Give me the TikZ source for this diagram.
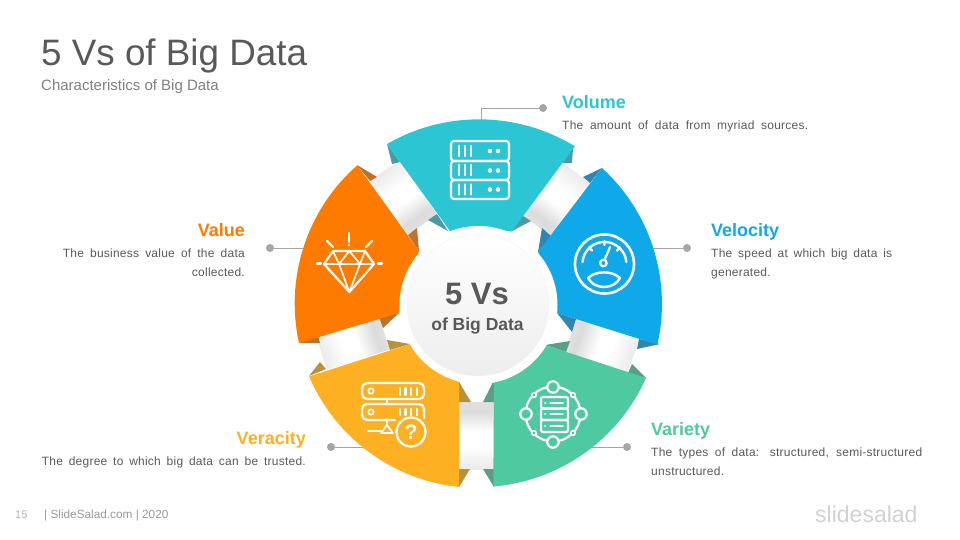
\documentclass[tikz,border=0pt]{standalone}
\usepackage{fontspec}
\setmainfont{Liberation Sans}
\newfontfamily\bodyfont[LetterSpace=2]{Liberation Sans}
\usetikzlibrary{positioning}
\definecolor{volumeteal}{HTML}{2CC5D4}
\definecolor{volumedark}{HTML}{4A9AA8}
\definecolor{velocityblue}{HTML}{0FA8E8}
\definecolor{velocitydark}{HTML}{2F86AE}
\definecolor{varietygreen}{HTML}{4FC99F}
\definecolor{varietydark}{HTML}{5A9E88}
\definecolor{veracityyellow}{HTML}{FDB022}
\definecolor{veracitydark}{HTML}{B8923A}
\definecolor{valueorange}{HTML}{FF7B00}
\definecolor{valuedark}{HTML}{B8732C}
\definecolor{titlegray}{HTML}{595959}
\definecolor{bodygray}{HTML}{595959}
\definecolor{linegray}{HTML}{A6A6A6}
\pgfdeclareverticalshading{rodfade}{100bp}{color(0bp)=(white!92!black); color(25bp)=(white!92!black); color(42bp)=(white); color(53bp)=(white); color(68bp)=(white!86!black); color(75bp)=(white!88!black); color(100bp)=(white!88!black)}
\tikzset{
  rod/.style={shading=rodfade},
  icon/.style={draw=white, line width=2.2pt, line cap=round, line join=round},
  thinicon/.style={icon, line width=1.7pt},
  dotpin/.style={circle, fill=linegray, inner sep=0pt, minimum size=8pt},
  pinline/.style={draw=linegray, line width=0.9pt},
  heading/.style={font=\fontsize{18}{20}\selectfont\bfseries},
  bodytext/.style={font=\bodyfont\fontsize{12}{19}\selectfont, text=bodygray, inner sep=0pt}
}

\begin{document}
\begin{tikzpicture}[x=1pt, y=-1pt]

    \useasboundingbox (0,0) rectangle (960,540);

    % leader lines
    \node[dotpin] (volumepin) at (543,108) {};
    \coordinate (volumeend) at (481,122);
    \draw[pinline] (volumepin) -| (volumeend);
    \node[dotpin] (velocitypin) at (687,248) {};
    \coordinate (velocityend) at (650,248);
    \draw[pinline] (velocitypin) -- (velocityend);
    \node[dotpin] (varietypin) at (627,447) {};
    \coordinate (varietyend) at (590,447);
    \draw[pinline] (varietypin) -- (varietyend);
    \node[dotpin] (veracitypin) at (331,447) {};
    \coordinate (veracityend) at (368,447);
    \draw[pinline] (veracitypin) -- (veracityend);
    \node[dotpin] (valuepin) at (270,248) {};
    \coordinate (valueend) at (306,248);
    \draw[pinline] (valuepin) -- (valueend);

    % rods
    \shade[rod, transform canvas={rotate around={143:(556.75,199.5)}}] (539.25,166.5) rectangle (574.25,232.5);
    \shade[rod, transform canvas={rotate around={71:(602,345.75)}}] (584.5,312.75) rectangle (619.5,378.75);
    \shade[rod] (459,402) rectangle (494,469);
    \shade[rod, transform canvas={rotate around={-72:(353,343)}}] (335.5,310) rectangle (370.5,376);
    \shade[rod, transform canvas={rotate around={-145:(403.75,197.5)}}] (386.25,164.5) rectangle (421.25,230.5);

    % folds
    \fill[volumedark] (573,148) -- (572,163) -- (562,163) -- cycle;
    \fill[volumedark] (523,216) -- (531,221) -- (510,232) -- cycle;
    \fill[volumedark] (387,144) -- (400,162) -- (392,164) -- cycle;
    \fill[volumedark] (437,214) -- (448,231) -- (428,220) -- cycle;
    \fill[velocitydark] (602,168) -- (583,177) -- (590,183) -- cycle;
    \fill[velocitydark] (542,228) -- (551,236) -- (538,252) -- cycle;
    \fill[velocitydark] (557,313) -- (576,319) -- (572,332) -- cycle;
    \fill[velocitydark] (660,344) -- (639,339) -- (637,349) -- cycle;
    \fill[varietydark] (545,345) -- (570,341) -- (566,352) -- cycle;
    \fill[varietydark] (646,378) -- (632,364) -- (628,373) -- cycle;
    \fill[varietydark] (494,380) -- (483,402) -- (494,402) -- cycle;
    \fill[varietydark] (494,487) -- (483,469) -- (494,469) -- cycle;
    \fill[veracitydark] (459,382) -- (471,402) -- (459,402) -- cycle;
    \fill[veracitydark] (459,487) -- (470,469) -- (459,469) -- cycle;
    \fill[veracitydark] (309,376) -- (326,369) -- (320,362) -- cycle;
    \fill[veracitydark] (410,344) -- (387,340) -- (390,350) -- cycle;
    \fill[valuedark] (299,343) -- (318,336) -- (320,343) -- cycle;
    \fill[valuedark] (399,313) -- (379,317) -- (383,328) -- cycle;
    \fill[valuedark] (357,165) -- (377,177) -- (370,181) -- cycle;
    \fill[valuedark] (408,235) -- (417,228) -- (419,251) -- cycle;

    % segments
    \fill[volumeteal] (387,144) arc[start angle=120, end angle=58.6, radius=184pt] -- (512,231) -- (450,231) -- cycle;
    \fill[velocityblue] (602,168) arc[start angle=47.6, end angle=-12.8, radius=184pt] -- (557,313) -- (538,252) -- cycle;
    \fill[varietygreen] (646,378) arc[start angle=-24, end angle=-85.2, radius=184pt] -- (494,380) -- (545,345) -- cycle;
    \fill[veracityyellow] (459,487) arc[start angle=-96, end angle=-156.8, radius=184pt] -- (410,344) -- (459,382) -- cycle;
    \fill[valueorange] (299,343) arc[start angle=192.4, end angle=131.3, radius=184pt] -- (419,251) -- (399,313) -- cycle;

    % middle
    \fill[white] (478.5,305) circle[radius=79pt];
    \shade[top color=white, bottom color=white!93!black, draw=white!96!black, line width=0.5pt] (478,305) circle[radius=71pt];
    \node[font=\fontsize{31}{33}\selectfont\bfseries, text=titlegray, anchor=base] (bigfive) at (477,304) {5 Vs};
    \node[font=\fontsize{17.5}{19}\selectfont\bfseries, text=titlegray, anchor=base] (bigdata) at (477.5,330) {of Big Data};

    % volume icon
    \draw[icon, rounded corners=3pt] (451,141) rectangle (509,161);
    \draw[icon, rounded corners=3pt] (451,161) rectangle (509,180);
    \draw[icon, rounded corners=3pt] (451,180) rectangle (509,199);
    \draw[icon] (459.3,146) -- (459.3,156) (465,146) -- (465,156) (470.7,146) -- (470.7,156);
    \draw[icon] (459.3,165) -- (459.3,175) (465,165) -- (465,175) (470.7,165) -- (470.7,175);
    \draw[icon] (459.3,184.5) -- (459.3,194.5) (465,184.5) -- (465,194.5) (470.7,184.5) -- (470.7,194.5);
    \fill[white] (490,151) circle[radius=2.3pt] (498,151) circle[radius=2.3pt];
    \fill[white] (490,170.5) circle[radius=2.3pt] (498,170.5) circle[radius=2.3pt];
    \fill[white] (490,189.5) circle[radius=2.3pt] (498,189.5) circle[radius=2.3pt];

    % velocity icon
    \draw[icon, line width=2.6pt] (604.5,264) circle[radius=29.5pt];
    \draw[icon, line width=2.4pt] (582.5,262) arc[start angle=175, end angle=5, radius=22pt];
    \draw[icon] (604.5,241) -- (604.5,245) (589,247.5) -- (592,250.5) (620,247.5) -- (617,250.5);
    \draw[icon] (603.4,263) circle[radius=3.3pt];
    \draw[icon] (604.5,260) -- (610,247);
    \draw[icon, line width=2.4pt] (588,278) .. controls (596,270.5) and (612,270.5) .. (620,278) .. controls (614,290) and (594,290) .. cycle;

    % variety icon
    \draw[icon] (553,414) circle[radius=27.5pt];
    \fill[varietygreen, draw=white, line width=2.2pt] (553,387) circle[radius=5.7pt];
    \fill[varietygreen, draw=white, line width=2.2pt] (553,442) circle[radius=5.7pt];
    \fill[varietygreen, draw=white, line width=2.2pt] (526,414) circle[radius=5.7pt];
    \fill[varietygreen, draw=white, line width=2.2pt] (581,414) circle[radius=5.7pt];
    \fill[varietygreen, draw=white, line width=1.5pt] (534,395) circle[radius=2.3pt];
    \fill[varietygreen, draw=white, line width=1.5pt] (573,395) circle[radius=2.3pt];
    \fill[varietygreen, draw=white, line width=1.5pt] (534,433) circle[radius=2.3pt];
    \fill[varietygreen, draw=white, line width=1.5pt] (573,433) circle[radius=2.3pt];
    \draw[icon, rounded corners=2pt] (541,397) rectangle (568,408.5);
    \draw[icon, rounded corners=2pt] (541,408.5) rectangle (568,420);
    \draw[icon, rounded corners=2pt] (541,420) rectangle (568,432);
    \draw[thinicon] (545,402.7) -- (545.5,402.7) (550,402.7) -- (563,402.7);
    \draw[thinicon] (545,414.2) -- (545.5,414.2) (550,414.2) -- (563,414.2);
    \draw[thinicon] (545,426) -- (545.5,426) (550,426) -- (563,426);

    % veracity icon
    \draw[icon, rounded corners=5pt] (362,383) rectangle (424,399);
    \draw[icon, rounded corners=5pt] (395,420) -- (362,420) -- (362,404) -- (424,404) -- (424,418);
    \draw[icon] (387,399) -- (387,404) (387,420) -- (387,425);
    \draw[thinicon] (371,391) circle[radius=2.7pt] (371,412) circle[radius=2.7pt];
    \draw[icon] (400,388) -- (400,395) (405.5,388) -- (405.5,395) (411,388) -- (411,395) (417,388) -- (417,395);
    \draw[icon] (400,409) -- (400,415) (405.5,409) -- (405.5,415) (411,409) -- (411,415) (417,409) -- (417,415);
    \draw[icon] (368,431) -- (381,431);
    \draw[thinicon] (381,433) -- (387,425) -- (393,433) -- cycle;
    \draw[icon] (411,432) circle[radius=14.5pt];
    \node[font=\fontsize{21}{22}\selectfont\bfseries, text=white] (whatmark) at (411,432) {?};

    % value icon
    \draw[icon] (333,251) -- (365,251) -- (374,264) -- (349.3,292) -- (324,264) -- cycle;
    \draw[thinicon] (324,264) -- (374,264);
    \draw[thinicon] (333,251) -- (339,264) -- (349.3,251) -- (360,264) -- (365,251);
    \draw[thinicon] (339,264) -- (349.3,292) -- (360,264);
    \draw[icon] (349.3,233) -- (349.3,242) (349.3,245) -- (349.3,245.2);
    \draw[icon] (327,241) -- (333,247) (372,241) -- (366,247);
    \draw[icon] (317,263.5) -- (321,263.5) (378,263.5) -- (382,263.5);

    % labels
    \node[font=\fontsize{36.8}{38}\selectfont, text=titlegray, anchor=base west, inner sep=0pt] (title) at (41,66) {5 Vs of Big Data};
    \node[font=\fontsize{15}{16}\selectfont, text=black!50, anchor=base west, inner sep=0pt] (subtitle) at (41,91) {Characteristics of Big Data};

    \node[heading, text=volumeteal, anchor=base west, inner sep=0pt] (volumehead) at (562,109) {Volume};
    \node[bodytext, anchor=base west] (volumetext) at (562,130) {\makebox[246pt][s]{The amount of data from myriad sources.}};
    \node[heading, text=velocityblue, anchor=base west, inner sep=0pt] (velocityhead) at (711,236) {Velocity};
    \node[bodytext, anchor=base west, align=left] (velocitytext) at (711,276) {\makebox[181pt][s]{The speed at which big data is}\\generated.};
    \node[heading, text=varietygreen, anchor=base west, inner sep=0pt] (varietyhead) at (651,435) {Variety};
    \node[bodytext, anchor=base west, align=left] (varietytext) at (651,475) {\makebox[271pt][s]{The types of data: structured, semi-structured}\\unstructured.};
    \node[heading, text=veracityyellow, anchor=base east, inner sep=0pt] (veracityhead) at (306,444) {Veracity};
    \node[bodytext, anchor=base east] (veracitytext) at (306,465) {\makebox[264pt][s]{The degree to which big data can be trusted.}};
    \node[heading, text=valueorange, anchor=base east, inner sep=0pt] (valuehead) at (245,236) {Value};
    \node[bodytext, anchor=base east, align=right] (valuetext) at (245,276) {\makebox[182pt][s]{The business value of the data}\\collected.};

    % footer
    \node[font=\fontsize{11}{12}\selectfont, text=black!30, anchor=base west, inner sep=0pt] (pagenum) at (15,518) {15};
    \node[font=\fontsize{11.8}{12}\selectfont, text=black!40, anchor=base west, inner sep=0pt] (footer) at (44,518) {| SlideSalad.com | 2020};
    \node[font=\fontsize{23}{25}\selectfont, text=black!18, anchor=base west, inner sep=0pt] (brand) at (815,522) {slidesalad};

\end{tikzpicture}
\end{document}
